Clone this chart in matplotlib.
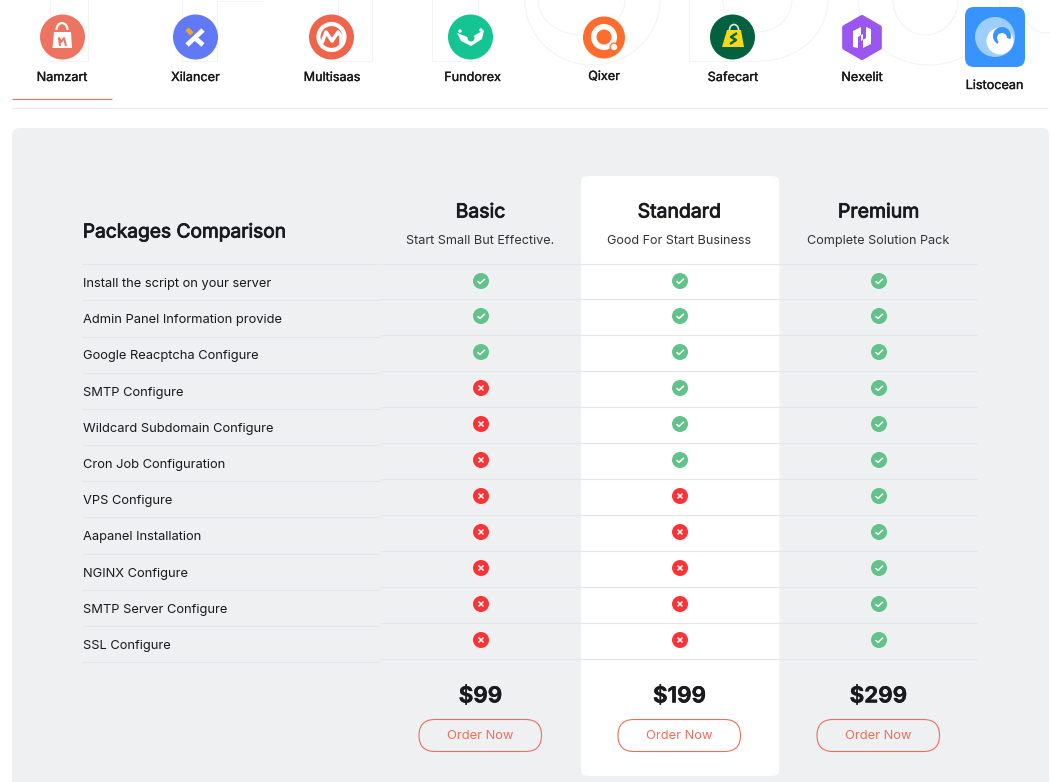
import matplotlib
matplotlib.use("Agg")
import matplotlib.pyplot as plt
import matplotlib.patheffects as pe
from matplotlib.patches import Circle, FancyBboxPatch, Polygon, Arc, RegularPolygon, Wedge

plt.rcParams['font.family'] = ['Inter', 'DejaVu Sans']
plt.rcParams['lines.solid_capstyle'] = 'butt'

# ---------- data ----------
tabs = ["Namzart", "Xilancer", "Multisaas", "Fundorex", "Qixer", "Safecart", "Nexelit", "Listocean"]
plans = ["Basic", "Standard", "Premium"]
taglines = ["Start Small But Effective.", "Good For Start Business", "Complete Solution Pack"]
prices = ["$99", "$199", "$299"]
features = ["Install the script on your server", "Admin Panel Information provide",
            "Google Reacptcha Configure", "SMTP Configure", "Wildcard Subdomain Configure",
            "Cron Job Configuration", "VPS Configure", "Aapanel Installation",
            "NGINX Configure", "SMTP Server Configure", "SSL Configure"]
basic = [1, 1, 1, 0, 0, 0, 0, 0, 0, 0, 0]
standard = [1, 1, 1, 1, 1, 1, 0, 0, 0, 0, 0]
premium = [1, 1, 1, 1, 1, 1, 1, 1, 1, 1, 1]

# ---------- layout ----------
tab_x = [62.5, 195.5, 331.5, 470.5, 604, 732.5, 861.5, 995]
tab_text_x = [62, 195.5, 332, 472.5, 604, 733, 862, 994.5]
tab_col = ["#ee7462", "#6279f5", "#ee654b", "#14c492", "#fe6d2e", "#04613f", "#9b55f0", "#3794fd"]
tab_label_y = [78, 78, 78, 78, 77, 78, 78, 86]
plan_x = [480.5, 679.5, 878.5]
feat_y = [283.5, 319.5, 355.5, 392.7, 428.7, 464.7, 500.7, 536.7, 573.7, 609.7, 645.7]
feat_rule_y = [264, 300, 337, 373, 409, 445, 481, 517, 554, 590, 626, 662]
icon_y = [281, 316, 352, 388, 424, 460, 496, 532, 568, 604, 640]
col_rule_y = [264, 299, 335, 371, 407, 443, 479, 515, 551, 587, 623, 659]
INK, MUTED, RULE = "#1a1a1e", "#33333a", "#e4e5e8"
PANEL, ACCENT, OK, BAD = "#eff0f2", "#ee6e5e", "#62c28a", "#fb3336"

fig = plt.figure(figsize=(10.5, 7.82), dpi=100, facecolor="white")
ax = fig.add_axes([0, 0, 1, 1])
ax.set_xlim(0, 1050)
ax.set_ylim(782, 0)
ax.axis("off")


def rounded(x0, y0, x1, y1, r, **kw):
    p = FancyBboxPatch((x0 + r, y0 + r), x1 - x0 - 2 * r, y1 - y0 - 2 * r,
                       boxstyle=f"round,pad={r},rounding_size={r}", **kw)
    ax.add_patch(p)
    return p


def heavy(t, lw):
    t.set_path_effects([pe.withStroke(linewidth=lw, foreground=t.get_color())])
    return t


# faint decorative outlines behind the tabs
FAINT = "#f3f3f4"
for x0, x1, depth in [(525, 660, 65), (538, 625, 35), (723, 792, 32),
                      (858, 1000, 65), (893, 958, 35), (1021, 1070, 33)]:
    ax.add_patch(Arc(((x0 + x1) / 2, 0), x1 - x0, 2 * depth, theta1=0, theta2=180,
                     color=FAINT, lw=0.8, zorder=1))
for x0, x1 in [(50, 88), (182, 217), (338, 372), (432, 478)]:
    ax.plot([x0, x0, x1, x1], [0, 61, 61, 0], color=FAINT, lw=0.8, zorder=1)
ax.plot([689, 689, 760], [0, 61, 61], color=FAINT, lw=0.8, zorder=1)
ax.add_patch(Arc((760, 0), 136, 122, theta1=0, theta2=90, color=FAINT, lw=0.8, zorder=1))
ax.plot([217, 263], [0.5, 0.5], color=FAINT, lw=0.8, zorder=1)

# tabs
for name, x, tx, col, ly in zip(tabs, tab_x, tab_text_x, tab_col, tab_label_y):
    if name == "Listocean":
        rounded(965, 7, 1025, 67, 9, fc=col, ec="none", zorder=2)
        ax.add_patch(Circle((995, 37), 20, fc="#9ccfff", ec="none", zorder=3))
        ax.add_patch(Circle((1000, 41), 13.5, fc="white", ec="none", zorder=4))
        ax.add_patch(Wedge((1002, 36), 9, 120, 20, fc=col, ec="none", zorder=5))
        ax.add_patch(Circle((1002, 38), 5, fc="white", ec="none", zorder=6))
    elif name == "Nexelit":
        ax.add_patch(RegularPolygon((x + 0.5, 37.5), 6, radius=20.5, fc=col, ec=col, lw=3,
                                    zorder=2, joinstyle="round"))
        ax.add_patch(Polygon([[853, 47], [853, 31], [861, 27], [861, 41], [866, 38], [866, 27],
                              [871, 29], [871, 44], [863, 48], [863, 34], [858, 37], [858, 48]],
                             fc="white", ec="none", zorder=3))
    else:
        r = 21 if name == "Qixer" else 22.5
        ax.add_patch(Circle((x, 37 if name != "Qixer" else 37.5), r, fc=col, ec="none", zorder=2))
    if name == "Namzart":
        ax.add_patch(Polygon([[54, 32], [71, 32], [72, 48], [52.5, 48]], fc="white", ec="none", zorder=3))
        ax.add_patch(Arc((62, 30), 11, 14, theta1=180, theta2=360, color="white", lw=1.6, zorder=3))
        ax.plot([60, 59, 61, 64, 66], [46, 38, 42, 38, 46], color=col, lw=1.4, zorder=4)
    elif name == "Xilancer":
        ax.plot([187, 203], [45, 30], color="white", lw=3.4, zorder=3)
        ax.plot([194, 203], [37, 45], color="white", lw=3.4, zorder=3)
        ax.plot([187, 192], [29, 34], color="#f0a32f", lw=3.4, zorder=3)
    elif name == "Multisaas":
        ax.add_patch(Circle((x, 37), 13, fc="none", ec="white", lw=3, zorder=3))
        ax.plot([322, 326, 332, 338, 341, 341], [43, 32, 41, 32, 36, 46], color="white", lw=2.6, zorder=4)
    elif name == "Fundorex":
        ax.add_patch(Polygon([[457, 33], [470, 38], [484, 30], [482, 39], [471, 46], [461, 41]],
                             fc="white", ec="none", zorder=3))
        ax.add_patch(Circle((471, 38), 3.5, fc=col, ec="none", zorder=4))
        ax.add_patch(Circle((460, 31), 1.7, fc="white", ec="none", zorder=4))
        ax.add_patch(Circle((481, 30), 1.7, fc="white", ec="none", zorder=4))
    elif name == "Qixer":
        ax.add_patch(Circle((x, 37), 13, fc="white", ec="none", zorder=3))
        ax.add_patch(Circle((x, 37), 7.5, fc=col, ec="none", zorder=4))
        ax.add_patch(Circle((614, 47), 4.5, fc=col, ec="none", zorder=4))
        ax.add_patch(Circle((614, 47), 3.2, fc="white", ec="none", zorder=5))
    elif name == "Safecart":
        ax.add_patch(Polygon([[727, 30], [741, 30], [744, 47], [722, 47]], fc="#f7d916", ec="none", zorder=3))
        ax.add_patch(Arc((734, 30), 9, 11, theta1=180, theta2=360, color="#e9ecd6", lw=1.2, zorder=3))
        ax.plot([737, 731, 736, 730], [33, 37, 40, 44], color="#04613f", lw=1.7, zorder=4)
    heavy(ax.text(tx, ly, name, ha="center", va="center", fontsize=9.1, color=INK, zorder=5), 0.25)

ax.plot([12, 111.5], [99, 99], color=ACCENT, lw=0.8, zorder=3)
ax.plot([12, 1048], [108, 108], color="#e9e9eb", lw=0.8, zorder=2)

# panel and highlighted column
rounded(12, 128, 1049, 800, 8, fc=PANEL, ec="none", zorder=1)
rounded(581, 176, 779.5, 776, 7, fc="white", ec="none", zorder=2)

heavy(ax.text(82.8, 232.5, "Packages Comparison", ha="left", va="center", fontsize=13.8,
              color=INK, zorder=5), 0.6)

for y in feat_rule_y:
    ax.plot([82, 380], [y, y], color=RULE, lw=0.8, zorder=3)
for y in col_rule_y:
    ax.plot([380, 977], [y, y], color=RULE, lw=0.8, zorder=3)
for name, y in zip(features, feat_y):
    ax.text(82.8, y, name, ha="left", va="center", fontsize=9.3, color=INK, zorder=5)

for x, plan, tag, price, marks in zip(plan_x, plans, taglines, prices, [basic, standard, premium]):
    heavy(ax.text(x, 212.5, plan, ha="center", va="center", fontsize=14, color=INK, zorder=5), 0.6)
    ax.text(x, 241, tag, ha="center", va="center", fontsize=9.1, color=MUTED, zorder=5)
    heavy(ax.text(x, 696.5, price, ha="center", va="center", fontsize=16, fontweight="bold", color=INK, zorder=5), 0.2)
    rounded(x - 61.5, 719.5, x + 61, 751.5, 16, fc="none", ec=ACCENT, lw=0.8, zorder=4)
    ax.text(x, 736.3, "Order Now", ha="center", va="center", fontsize=9.3, color=ACCENT, zorder=5)
    for y, ok in zip(icon_y, marks):
        ax.add_patch(Circle((x + 0.5, y), 8, fc=OK if ok else BAD, ec="none", zorder=4))
        if ok:
            ax.plot([x - 3, x - 0.5, x + 4.5], [y + 0.2, y + 2.4, y - 2.2], color="white", lw=1.1, zorder=5)
        else:
            ax.plot([x - 2, x + 3], [y - 2.5, y + 2.5], color="white", lw=1.1, zorder=5)
            ax.plot([x - 2, x + 3], [y + 2.5, y - 2.5], color="white", lw=1.1, zorder=5)

fig.savefig("out.png", dpi=100, facecolor="white")
